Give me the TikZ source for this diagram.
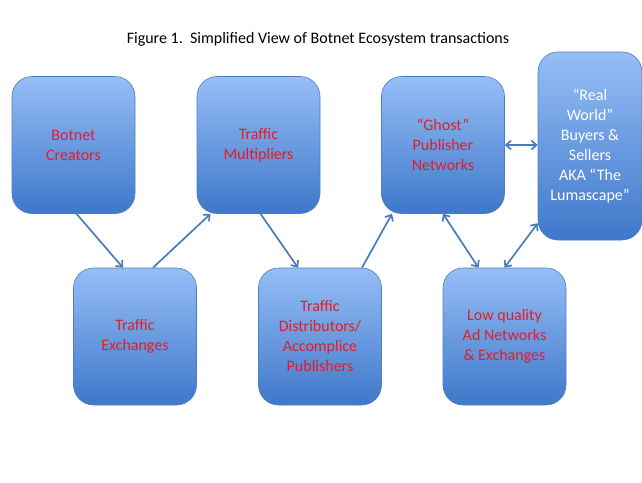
\documentclass[tikz,border=0pt]{standalone}
\usepackage{fontspec}
\setmainfont{Carlito}
\usetikzlibrary{arrows.meta}

\definecolor{boxtop}{RGB}{150,190,246}
\definecolor{boxbot}{RGB}{62,120,202}
\definecolor{boxline}{RGB}{80,126,190}
\definecolor{flow}{RGB}{74,124,186}
\definecolor{labelred}{RGB}{228,28,40}

\begin{document}
\begin{tikzpicture}[x=1pt,y=-1pt,
    actor/.style={rectangle, rounded corners=20pt, draw=boxline, line width=0.6pt,
        top color=boxtop, bottom color=boxbot, minimum width=123pt, minimum height=137pt,
        align=center, text=labelred, font=\fontsize{16}{20}\selectfont, inner sep=2pt},
    flow/.style={draw=flow, line width=1.7pt, -{Straight Barb[length=5pt,width=9pt]}},
    twoway/.style={flow, {Straight Barb[length=5pt,width=9pt]}-{Straight Barb[length=5pt,width=9pt]}}]
        % Fix the page size
        \useasboundingbox (0,0) rectangle (642,482);

        % Title
        \node[font=\fontsize{16}{19}\selectfont] (title) at (318,39) {Figure 1.\ \ Simplified View of Botnet Ecosystem transactions};

        % Top row
        \node[actor] (creators) at (73.5,145) {Botnet\\Creators};
        \node[actor] (multipliers) at (258.5,145) {Traffic\\Multipliers};
        \node[actor] (ghost) at (443,145) {``Ghost''\\Publisher\\Networks};
        \node[actor, minimum width=104pt, minimum height=188pt, text=white] (realworld) at (590,146)
            {``Real\\World''\\Buyers \&\\Sellers\\AKA ``The\\Lumascape''};

        % Bottom row
        \node[actor] (exchanges) at (135,336.5) {Traffic\\Exchanges};
        \node[actor] (distributors) at (320,336.5) {Traffic\\Distributors/\\Accomplice\\Publishers};
        \node[actor] (lowquality) at (504.5,336.5) {Low quality\\Ad Networks\\\& Exchanges};

        % Draw the flows
        \draw[flow] ([xshift=3pt]creators.south) -- ([xshift=-12pt]exchanges.north);
        \draw[flow] ([xshift=18pt]exchanges.north) -- ([xshift=-48pt]multipliers.south);
        \draw[flow] ([xshift=2pt]multipliers.south) -- ([xshift=-22pt]distributors.north);
        \draw[flow] ([xshift=42pt]distributors.north) -- ([xshift=-51pt]ghost.south);

        % Two way links
        \draw[twoway] (ghost.east) -- (ghost.east -| realworld.west);
        \draw[twoway] (ghost.south) -- ([xshift=-26pt]lowquality.north);
        \draw[twoway] (lowquality.north) -- ([yshift=17pt]realworld.south west);
    \end{tikzpicture}
\end{document}
